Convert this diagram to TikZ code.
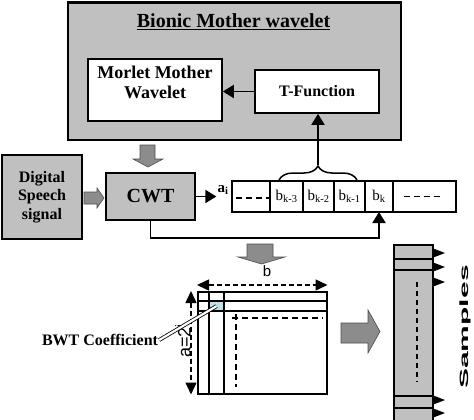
\documentclass[tikz,border=0pt]{standalone}
\usepackage{fontspec}
\setmainfont{Liberation Serif}
\setsansfont{Liberation Sans}
\usetikzlibrary{arrows.meta, positioning, calc, decorations.pathreplacing}
\definecolor{boxgray}{RGB}{192,192,192}
\definecolor{arrowgray}{RGB}{140,140,140}
\definecolor{coefblue}{RGB}{190,225,232}

\begin{document}
\begin{tikzpicture}[x=1pt, y=-1pt,
  graybox/.style={draw, line width=1.7pt, fill=boxgray, align=center, inner sep=0pt, font=\bfseries},
  whitebox/.style={draw, line width=1.7pt, fill=white, align=center, inner sep=0pt, font=\bfseries},
  cell/.style={draw, line width=1.5pt, minimum height=31pt, inner sep=0pt, outer sep=0pt, font=\fontsize{15}{17}\selectfont},
  conn/.style={line width=1.9pt, -{Triangle[length=11pt, width=13pt]}},
  blockarrow/.style={fill=arrowgray, draw=black!70, line width=0.6pt},
  dashln/.style={line width=1.7pt, dash pattern=on 6pt off 4pt},
  dimarrow/.style={line width=1.5pt, dash pattern=on 5pt off 3pt, {Triangle[length=12pt, width=11pt]}-{Triangle[length=12pt, width=11pt]}}
]
\useasboundingbox (0,0) rectangle (474,420);

% bionic mother wavelet block
\node[graybox, line width=2.2pt, minimum width=333pt, minimum height=137pt, anchor=north west] (bionic) at (67,1.5) {};
\node[font=\bfseries\fontsize{20}{24}\selectfont] (title) at (233.5,22) {\underline{Bionic Mother wavelet}};
\node[whitebox, minimum width=134pt, minimum height=62pt,
  label={[font=\bfseries\fontsize{18}{20}\selectfont, align=center, yshift=8pt]center:{Morlet Mother\\Wavelet}}] (morlet) at (155,90) {};
\node[whitebox, minimum width=124pt, minimum height=43pt, font=\bfseries\fontsize{16}{18}\selectfont] (tfunc) at (317,91.5) {T-Function};
\draw[conn] (tfunc.west) -- (tfunc.west -| morlet.east);

% input and CWT
\node[graybox, minimum width=80pt, minimum height=84pt, font=\bfseries\fontsize{16}{18.5}\selectfont] (speech) at (42,197) {Digital\\Speech\\signal};
\node[graybox, minimum width=89pt, minimum height=47pt, font=\bfseries\fontsize{20}{24}\selectfont] (cwt) at (150.5,196.5) {CWT};
\draw[blockarrow] (84,192) -- (97,192) -- (97,188) -- (104,198) -- (97,208) -- (97,204) -- (84,204) -- cycle;
\draw[blockarrow] (140,145) -- (155,145) -- (155,159) -- (163,159) -- (148,167) -- (133,159) -- (140,159) -- cycle;

% coefficient row
\node[font=\bfseries\fontsize{15}{17}\selectfont, inner sep=1pt] (ai) at (223,190) {a\textsubscript{i}};
\draw[conn] (cwt.east) -- (cwt.east -| ai.west);
\node[cell, minimum width=38pt, anchor=west] (dl) at (232,196.5) {};
\node[cell, minimum width=33pt, right=0pt of dl] (bk3) {b\textsubscript{k-3}};
\node[cell, minimum width=31pt, right=0pt of bk3] (bk2) {b\textsubscript{k-2}};
\node[cell, minimum width=31pt, right=0pt of bk2] (bk1) {b\textsubscript{k-1}};
\node[cell, minimum width=28pt, right=0pt of bk1] (bk) {b\textsubscript{k}};
\node[cell, minimum width=63pt, right=0pt of bk] (dr) {};
\draw[dashln] ([xshift=4pt, yshift=-1.5pt]dl.west) -- ([yshift=-1.5pt]dl.east);
\draw[dashln] ([xshift=-21pt]dr.center) -- ([xshift=16pt]dr.center);
\draw[line width=1.5pt, decorate, decoration={brace, amplitude=14pt}]
  ([xshift=9pt, yshift=1pt]bk3.north west) -- ([xshift=-8pt, yshift=1pt]bk1.north east);
\coordinate (brtip) at (318,165);
\draw[conn] (brtip) -- (brtip |- tfunc.south);
\draw[conn] (cwt.south) -- ++(0,17) -| (bk.south);

% coefficient matrix
\draw[blockarrow] (247,244) -- (273,244) -- (273,257) -- (285,257) -- (261.5,264) -- (238,257) -- (247,257) -- cycle;
\node[font=\sffamily\fontsize{15}{17}\selectfont] (blabel) at (267,271) {b};
\node[draw, line width=1.5pt, minimum width=129pt, minimum height=102pt, anchor=north west, inner sep=0pt] (mat) at (197,291) {};
\node[draw, line width=1.2pt, fill=coefblue, minimum width=14pt, minimum height=9pt, anchor=north west, inner sep=0pt] (coef) at (209,301) {};
\draw[line width=1.5pt] (coef.north -| mat.west) -- (coef.north -| mat.east);
\draw[line width=1.5pt] (coef.south -| mat.west) -- (coef.south -| mat.east);
\draw[line width=1.5pt] (coef.west |- mat.north) -- (coef.west |- mat.south);
\draw[line width=1.5pt] (coef.east |- mat.north) -- (coef.east |- mat.south);
\draw[dashln, line width=1.5pt] (232,318) -- (323,318);
\draw[dashln, line width=1.5pt] (236,314) -- (236,387);
\draw[dimarrow] ([yshift=6pt]mat.north west) -- ([yshift=6pt]mat.north east);
\draw[dimarrow] ([xshift=-6pt]mat.north west) -- ([xshift=-6pt]mat.south west);
\node[rotate=90, font=\sffamily\fontsize{18}{20}\selectfont] (alabel) at (183,341) {a=2\textsuperscript{i}};
\node[font=\bfseries\fontsize{16}{18}\selectfont, inner sep=1pt] (bwt) at (100,340) {BWT Coefficient};
\draw[line width=0.8pt, double=white, double distance=2.2pt] (bwt.east) -- (coef.center);

% samples column
\draw[blockarrow] (341,323) -- (368,323) -- (368,310) -- (380,331.5) -- (368,353) -- (368,343) -- (341,343) -- cycle;
\node[draw, line width=1.5pt, fill=boxgray, minimum width=39pt, minimum height=181pt, anchor=north west, inner sep=0pt] (col) at (393,244) {};
\foreach \yy in {259,270,396,408}
  \draw[line width=1.5pt] (col.west |- 0,\yy) -- (col.east |- 0,\yy);
\draw[dashln, dash pattern=on 5pt off 4pt] (417,282) -- (417,382);
\foreach \yy in {253,267,282,400,413}
  \fill (432,\yy-5) -- (445,\yy) -- (432,\yy+5) -- cycle;
\node[rotate=90, font=\sffamily\bfseries\fontsize{12}{14}\selectfont] (samples) at (465,327) {\scalebox{2.5}[1]{Samples}};
\end{tikzpicture}
\end{document}
